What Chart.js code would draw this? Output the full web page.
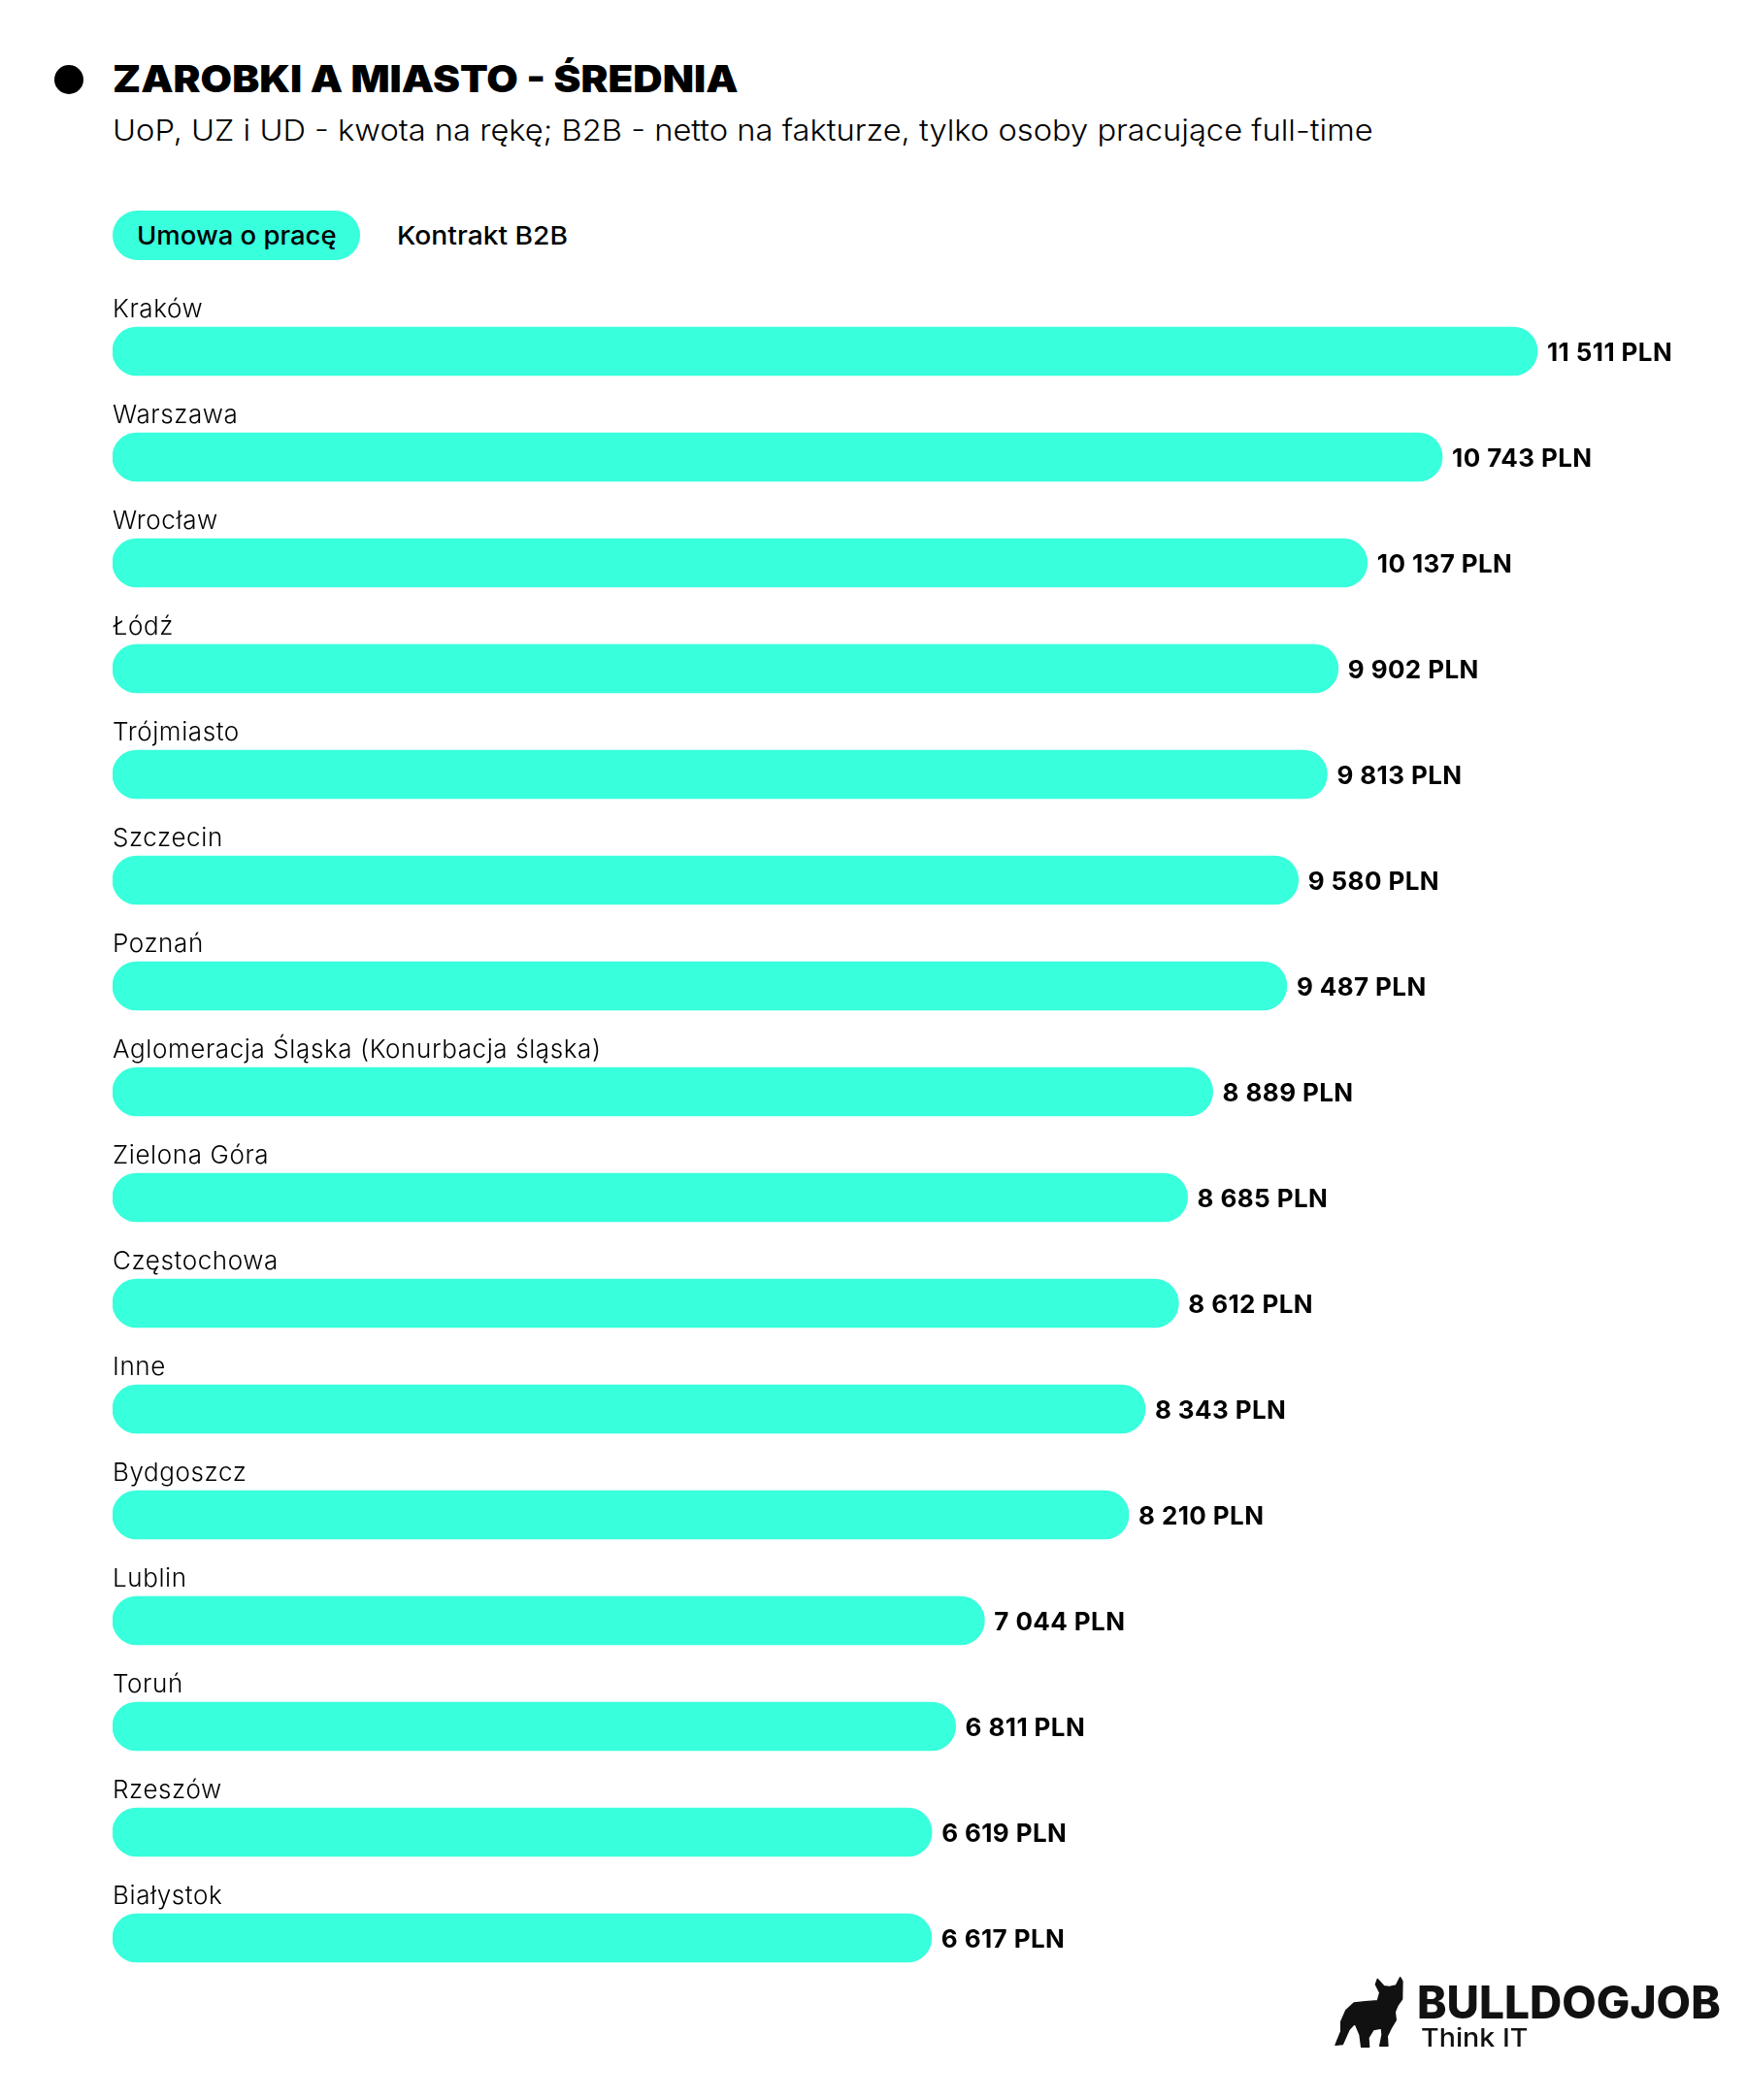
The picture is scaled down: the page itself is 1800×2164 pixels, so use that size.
<!DOCTYPE html>
<html lang="pl"><head><meta charset="utf-8">
<script src="https://cdn.jsdelivr.net/npm/chart.js@4"></script>
<style>
html,body{margin:0;padding:0;background:#fff;width:1800px;height:2164px;overflow:hidden}
body{position:relative;font-family:Inter,"DejaVu Sans",sans-serif;color:#000}
canvas#c{position:absolute;left:0;top:0}
.t{position:absolute;white-space:nowrap;line-height:1;transform-origin:left center}
#dot{position:absolute;left:56px;top:67px;width:30px;height:30px;border-radius:50%;background:#000}
#pill{position:absolute;left:116px;top:217px;width:255px;height:51px;border-radius:25.5px;background:#38ffdc}
</style></head><body>
<div id="dot"></div>
<div class="t" id="title" style="left:116px;top:62px;font-size:38px;font-weight:900;transform:scaleX(1.105)">ZAROBKI A MIASTO - ŚREDNIA</div>
<div class="t" id="sub" style="left:116px;top:119px;font-size:30px;font-weight:300;transform:scaleX(1.089)">UoP, UZ i UD - kwota na rękę; B2B - netto na fakturze, tylko osoby pracujące full-time</div>
<div id="pill"></div>
<div class="t" style="left:141px;top:230px;font-size:26px;font-weight:500;transform:scaleX(1.057)">Umowa o pracę</div>
<div class="t" style="left:409px;top:230px;font-size:26px;font-weight:500;transform:scaleX(1.085)">Kontrakt B2B</div>
<canvas id="c" width="1800" height="2164"></canvas>
<svg style="position:absolute;left:1300px;top:1950px" width="500" height="214" viewBox="0 0 1500 642"><path fill="#111" stroke="#111" stroke-width="4" stroke-linejoin="round" d="M358 268L378 290L395 292L415 288L428 263L435 275L434 330L420 350L412 370L415 395L400 420L388 445L390 475L365 475L372 440L370 420L345 425L330 450L332 478L308 478L303 440L288 405L270 425L250 470L228 472L245 430L245 400L260 365L285 342L320 338L358 335L365 310L352 285Z"/></svg>
<div class="t" style="left:1460px;top:2040px;font-size:46px;font-weight:800;color:#111">BULLDOGJOB</div>
<div class="t" style="left:1464px;top:2087px;font-size:26px;font-weight:500;color:#111;transform:scaleX(1.1)">Think IT</div>
<script>
const categories=["Kraków","Warszawa","Wrocław","Łódź","Trójmiasto","Szczecin","Poznań","Aglomeracja Śląska (Konurbacja śląska)","Zielona Góra","Częstochowa","Inne","Bydgoszcz","Lublin","Toruń","Rzeszów","Białystok"];
const umowaOPrace=[11511,10743,10137,9902,9813,9580,9487,8889,8685,8612,8343,8210,7044,6811,6619,6617];
const BAR="#38ffdc";
const fmt=v=>String(v).replace(/\B(?=(\d{3})+$)/g," ")+" PLN";
const tickSpacing={id:"tickSpacing",beforeDraw(chart){chart.ctx.letterSpacing="0.6px";},afterDatasetsDraw(chart){chart.ctx.letterSpacing="0px";}};
const valueLabels={id:"valueLabels",afterDatasetsDraw(chart){
  const ctx=chart.ctx;ctx.save();ctx.letterSpacing="0.4px";ctx.font='700 26px Inter, "DejaVu Sans", sans-serif';ctx.fillStyle="#000";ctx.textAlign="left";ctx.textBaseline="middle";
  chart.getDatasetMeta(0).data.forEach((el,i)=>ctx.fillText(fmt(umowaOPrace[i]),el.x+10,el.y+2));
  ctx.restore();}};
new Chart(document.getElementById("c"),{type:"bar",
 data:{labels:categories,datasets:[{label:"Umowa o pracę",data:umowaOPrace,backgroundColor:BAR,barThickness:50,borderRadius:25,borderSkipped:false}]},
 options:{indexAxis:"y",responsive:false,animation:false,
  layout:{padding:{left:116,right:26.1,top:307.5,bottom:112.5}},
  plugins:{legend:{display:false},tooltip:{enabled:false}},
  scales:{x:{display:false,min:0,max:13000},
   y:{position:"left",grid:{display:false,drawTicks:false},border:{display:false},afterFit(s){s.width=0},
      ticks:{mirror:true,padding:0,labelOffset:-43,color:"#000",font:{family:'Inter, "DejaVu Sans", sans-serif',size:26,weight:"300"}}}}},
 plugins:[valueLabels,tickSpacing]});
</script>
</body></html>
